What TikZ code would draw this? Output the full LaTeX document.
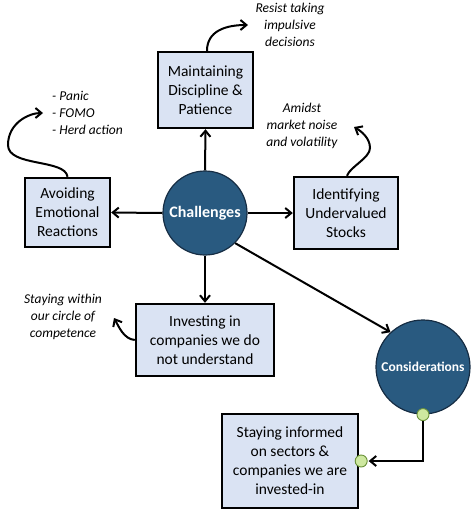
\documentclass[tikz,border=0pt]{standalone}
\usepackage{fontspec}
\setmainfont{Carlito}
\usetikzlibrary{arrows.meta}
\definecolor{boxfill}{RGB}{218,227,243}
\definecolor{circfill}{RGB}{41,90,128}
\definecolor{circline}{RGB}{22,45,68}
\definecolor{dotfill}{RGB}{206,232,160}
\definecolor{dotline}{RGB}{105,145,55}
\begin{document}
\begin{tikzpicture}[x=1pt,y=-1pt,
  box/.style={draw=black, line width=2.4pt, fill=boxfill, align=center,
    font=\fontsize{15.5}{19}\selectfont, inner sep=2pt},
  hub/.style={circle, draw=circline, line width=1.2pt, fill=circfill, text=white,
    inner sep=0pt},
  note/.style={align=center, font=\itshape\fontsize{13.5}{17}\selectfont, inner sep=1pt},
  arr/.style={line width=2pt, -{Straight Barb[length=6pt,width=10pt]}},
  dot/.style={circle, fill=dotfill, draw=dotline, line width=0.9pt,
    minimum size=12pt, inner sep=0pt}]
\useasboundingbox (0,0) rectangle (474,515);

% hubs
\node[hub, minimum size=84pt, font=\bfseries\fontsize{16}{19}\selectfont] (ch) at (205,213) {Challenges};
\node[hub, minimum size=94pt, font=\bfseries\fontsize{13.5}{16}\selectfont] (cons) at (423,367) {Considerations};

% boxes
\node[box, minimum width=95pt, minimum height=76pt] (maint) at (205.5,90) {Maintaining\\Discipline \&\\Patience};
\node[box, minimum width=85pt, minimum height=69pt] (avoid) at (67.5,212.5) {Avoiding\\Emotional\\Reactions};
\node[box, minimum width=104pt, minimum height=72pt] (ident) at (346,213) {Identifying\\Undervalued\\Stocks};
\node[box, minimum width=138pt, minimum height=72pt] (invest) at (205,340) {Investing in\\companies we do\\not understand};
\node[box, minimum width=136pt, minimum height=94pt] (stay) at (290,461) {Staying informed\\on sectors \&\\companies we are\\invested-in};

% notes
\node[note] (resist) at (290,25) {Resist taking\\impulsive\\decisions};
\node[note, align=left, anchor=west] (panic) at (51,113) {- Panic\\- FOMO\\- Herd action};
\node[note] (amid) at (302,126) {Amidst\\market noise\\and volatility};
\node[note] (within) at (63,317) {Staying within\\our circle of\\competence};

\coordinate (tip1) at (248,25);
\coordinate (tip2) at (43,113);
\coordinate (tip3) at (354,127);
\coordinate (tip4) at (114,318);

% main arrows
\draw[arr] (ch.north) -- (maint.south);
\draw[arr] (ch.west) -- (avoid.east);
\draw[arr] (ch.east) -- (ident.west);
\draw[arr] (ch.south) -- (invest.north);
\draw[arr] (ch.-45) -- (cons.133);

% consideration connector
\node[dot] (d1) at (cons.south) {};
\node[dot] (d2) at ([xshift=2pt]stay.east) {};
\draw[arr] (d1.south) |- ([xshift=1pt]d2.east);

% note arrows
\draw[arr] ([xshift=1.5pt]maint.north) .. controls +(0,-20) and +(-22,0) .. (tip1);
\draw[arr] (avoid.north) .. controls +(-2,-18) and +(0,22) .. (8,145) .. controls +(0,-22) and +(-14,0) .. (tip2);
\draw[arr] ([xshift=1pt]ident.north) .. controls +(3,-9) and +(0,10) .. (370,148) .. controls +(0,-10) and +(7,4) .. (tip3);
\draw[arr] (invest.west) .. controls +(-11,-1) and +(5,9) .. (tip4);
\end{tikzpicture}
\end{document}
